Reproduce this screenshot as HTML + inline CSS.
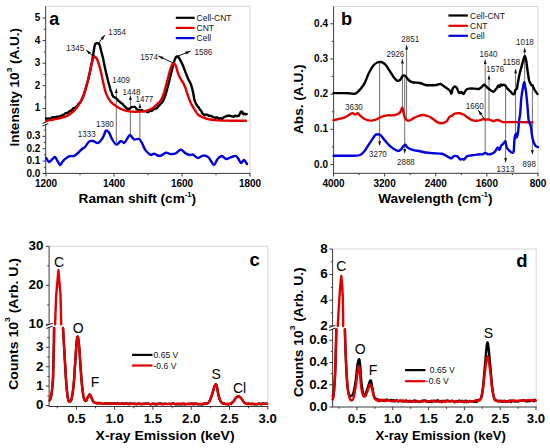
<!DOCTYPE html>
<html><head><meta charset="utf-8"><title>figure</title>
<style>html,body{margin:0;padding:0;background:#fff;width:550px;height:448px;overflow:hidden}svg{display:block;font-family:"Liberation Sans", sans-serif}</style>
</head><body>
<svg width="550" height="448" viewBox="0 0 550 448" font-family='"Liberation Sans", sans-serif'>
<rect width="550" height="448" fill="#fff"/>
<line x1="45.7" y1="6.2" x2="250" y2="6.2" stroke="#d4d4d4" stroke-width="1"/>
<line x1="250" y1="6.2" x2="250" y2="173.4" stroke="#d4d4d4" stroke-width="1"/>
<line x1="45.7" y1="6.2" x2="45.7" y2="120.4" stroke="#3a3a3a" stroke-width="1"/>
<line x1="45.7" y1="124.6" x2="45.7" y2="173.4" stroke="#3a3a3a" stroke-width="1"/>
<line x1="45.2" y1="173.4" x2="250.5" y2="173.4" stroke="#3a3a3a" stroke-width="1"/>
<line x1="42.4" y1="123.4" x2="47.2" y2="121.6" stroke="#222" stroke-width="1"/>
<line x1="42.4" y1="126" x2="48.4" y2="123.6" stroke="#222" stroke-width="1"/>
<line x1="42.5" y1="108.4" x2="45.7" y2="108.4" stroke="#3a3a3a" stroke-width="1"/>
<line x1="42.5" y1="85.8" x2="45.7" y2="85.8" stroke="#3a3a3a" stroke-width="1"/>
<line x1="42.5" y1="63.2" x2="45.7" y2="63.2" stroke="#3a3a3a" stroke-width="1"/>
<line x1="42.5" y1="40.6" x2="45.7" y2="40.6" stroke="#3a3a3a" stroke-width="1"/>
<line x1="42.5" y1="18" x2="45.7" y2="18" stroke="#3a3a3a" stroke-width="1"/>
<line x1="43.9" y1="97.1" x2="45.7" y2="97.1" stroke="#3a3a3a" stroke-width="1"/>
<line x1="43.9" y1="74.5" x2="45.7" y2="74.5" stroke="#3a3a3a" stroke-width="1"/>
<line x1="43.9" y1="51.9" x2="45.7" y2="51.9" stroke="#3a3a3a" stroke-width="1"/>
<line x1="43.9" y1="29.3" x2="45.7" y2="29.3" stroke="#3a3a3a" stroke-width="1"/>
<line x1="42.5" y1="173.5" x2="45.7" y2="173.5" stroke="#3a3a3a" stroke-width="1"/>
<line x1="42.5" y1="161.1" x2="45.7" y2="161.1" stroke="#3a3a3a" stroke-width="1"/>
<line x1="42.5" y1="148.7" x2="45.7" y2="148.7" stroke="#3a3a3a" stroke-width="1"/>
<line x1="42.5" y1="136.3" x2="45.7" y2="136.3" stroke="#3a3a3a" stroke-width="1"/>
<line x1="43.9" y1="167.3" x2="45.7" y2="167.3" stroke="#3a3a3a" stroke-width="1"/>
<line x1="43.9" y1="154.9" x2="45.7" y2="154.9" stroke="#3a3a3a" stroke-width="1"/>
<line x1="43.9" y1="142.5" x2="45.7" y2="142.5" stroke="#3a3a3a" stroke-width="1"/>
<line x1="43.9" y1="130.1" x2="45.7" y2="130.1" stroke="#3a3a3a" stroke-width="1"/>
<line x1="46" y1="173.4" x2="46" y2="176.6" stroke="#3a3a3a" stroke-width="1"/>
<line x1="114" y1="173.4" x2="114" y2="176.6" stroke="#3a3a3a" stroke-width="1"/>
<line x1="182" y1="173.4" x2="182" y2="176.6" stroke="#3a3a3a" stroke-width="1"/>
<line x1="250" y1="173.4" x2="250" y2="176.6" stroke="#3a3a3a" stroke-width="1"/>
<line x1="80" y1="173.4" x2="80" y2="175.2" stroke="#3a3a3a" stroke-width="1"/>
<line x1="148" y1="173.4" x2="148" y2="175.2" stroke="#3a3a3a" stroke-width="1"/>
<line x1="216" y1="173.4" x2="216" y2="175.2" stroke="#3a3a3a" stroke-width="1"/>
<text x="40.4" y="111.3" font-size="10" font-weight="bold" text-anchor="end" fill="#000">1</text>
<text x="40.4" y="88.7" font-size="10" font-weight="bold" text-anchor="end" fill="#000">2</text>
<text x="40.4" y="66.1" font-size="10" font-weight="bold" text-anchor="end" fill="#000">3</text>
<text x="40.4" y="43.5" font-size="10" font-weight="bold" text-anchor="end" fill="#000">4</text>
<text x="40.4" y="20.9" font-size="10" font-weight="bold" text-anchor="end" fill="#000">5</text>
<text x="40.4" y="176.5" font-size="10" font-weight="bold" text-anchor="end" fill="#000">0.0</text>
<text x="40.4" y="164.1" font-size="10" font-weight="bold" text-anchor="end" fill="#000">0.1</text>
<text x="40.4" y="151.7" font-size="10" font-weight="bold" text-anchor="end" fill="#000">0.2</text>
<text x="40.4" y="139.3" font-size="10" font-weight="bold" text-anchor="end" fill="#000">0.3</text>
<text x="46" y="187" font-size="10" font-weight="bold" text-anchor="middle" fill="#000">1200</text>
<text x="114" y="187" font-size="10" font-weight="bold" text-anchor="middle" fill="#000">1400</text>
<text x="182" y="187" font-size="10" font-weight="bold" text-anchor="middle" fill="#000">1600</text>
<text x="250" y="187" font-size="10" font-weight="bold" text-anchor="middle" fill="#000">1800</text>
<text x="78.6" y="202.9" font-size="13.6" font-weight="bold" text-anchor="start" fill="#000" textLength="117.5" lengthAdjust="spacingAndGlyphs">Raman shift (cm<tspan font-size="7.5" dy="-5.5">-1</tspan><tspan dy="5.5">)</tspan></text>
<text x="19.4" y="146.6" font-size="13" font-weight="bold" text-anchor="start" fill="#000" transform="rotate(-90 19.4 146.6)" textLength="118.6" lengthAdjust="spacingAndGlyphs">Intensity 10<tspan font-size="8" dy="-7.5">3</tspan><tspan dy="7.5"> (A.U.)</tspan></text>
<text x="49.3" y="25.2" font-size="18" font-weight="bold" text-anchor="start" fill="#000">a</text>
<line x1="116.3" y1="91" x2="116.3" y2="143.5" stroke="#6e6e6e" stroke-width="1"/>
<path d="M116.3,88 L114.9,93 L117.7,93 Z" fill="#111"/>
<line x1="130.4" y1="98" x2="130.4" y2="135.5" stroke="#6e6e6e" stroke-width="1"/>
<path d="M130.4,95 L129,100 L131.8,100 Z" fill="#111"/>
<line x1="139.9" y1="106" x2="139.9" y2="139.5" stroke="#6e6e6e" stroke-width="1"/>
<path d="M139.9,103 L138.5,108 L141.3,108 Z" fill="#111"/>
<path d="M46,118.53 L46.81,118.85 L47.95,118.45 L49.29,118.58 L50.68,118.4 L52,117.39 L53.25,117.08 L54.53,117.99 L55.81,116.9 L57.07,116.57 L58.3,117.29 L59.78,116.08 L61.21,116.07 L62.62,114.99 L64,114.59 L65.36,113.23 L66.68,113.16 L67.99,112.71 L69.3,111.43 L70.62,110.93 L71.94,110.01 L73.24,108.3 L74.5,108.36 L76.11,106.91 L77.66,105.21 L79.1,103.24 L80.44,102.4 L81.69,99.54 L82.8,97.51 L83.72,95.38 L84.5,92.72 L85.3,90.39 L86.17,86.93 L87.05,83.86 L87.9,80.7 L88.71,77.39 L89.48,73.97 L90.2,70.7 L90.87,67.59 L91.49,64.62 L92,62 L92.37,59.91 L92.63,58.17 L92.9,56.4 L93.2,54.45 L93.5,52.47 L93.8,50.6 L94.1,48.8 L94.4,47.1 L94.7,45.7 L94.95,44.7 L95.2,43.99 L95.6,43.5 L96.3,43.22 L97.16,43.16 L97.9,43.2 L98.42,43.29 L98.83,43.48 L99.2,43.9 L99.51,44.55 L99.79,45.43 L100.1,46.6 L100.5,48.2 L100.94,50.11 L101.4,52 L101.86,53.74 L102.34,55.46 L102.8,57.3 L103.24,59.33 L103.67,61.47 L104.1,63.6 L104.54,65.71 L104.97,67.81 L105.4,69.8 L105.79,71.56 L106.17,73.21 L106.6,75 L107.11,77.13 L107.67,79.4 L108.2,81.5 L108.7,83.33 L109.17,85 L109.6,86.5 L109.89,87.67 L110.14,88.52 L110.6,90.42 L111.4,92 L112.4,95.09 L113.5,97.03 L114.63,97.15 L115.85,98.02 L117.2,99.1 L118.34,101.12 L119.58,101.44 L120.85,102.83 L122.1,103.52 L123.4,105.11 L124.74,106.37 L125.99,107.61 L127,108.82 L127.76,109.2 L128.17,109.47 L128.8,108.75 L129.89,108.37 L131.2,107.31 L132.5,106.99 L133.76,106.84 L135.01,106.87 L136.2,108.6 L137.26,109.42 L138.24,110.03 L139.3,110.1 L140.51,110.58 L141.8,110.01 L143,111.06 L143.96,111.08 L144.84,111.1 L146,110.99 L147.21,112.02 L148.63,112 L150.11,110.43 L151.5,111.02 L152.82,109.95 L154.14,108.95 L155.36,108.46 L156.4,108.48 L157.37,107.87 L158.07,105.97 L158.9,105.86 L160.06,104.57 L161.34,103.27 L162.5,101.8 L163.4,100.29 L164.18,98.61 L165,96.4 L165.94,93.41 L166.92,89.88 L167.9,86.2 L168.89,82.33 L169.89,78.3 L170.8,74.6 L171.59,71.46 L172.3,68.66 L173,66 L173.7,63.29 L174.4,60.72 L175.1,58.7 L175.83,57.36 L176.56,56.56 L177.3,56.3 L178.03,56.67 L178.77,57.58 L179.5,58.7 L180.26,60.04 L181.03,61.59 L181.7,63 L182.2,64 L182.6,64.85 L183.1,66 L183.75,67.64 L184.49,69.58 L185.3,71.7 L186.21,74.07 L187.21,76.62 L188.2,79 L189.19,80.94 L190.19,82.71 L191.1,84.8 L191.91,87.54 L192.65,90.6 L193.3,93.5 L193.77,96.06 L194.15,98.46 L194.7,100.7 L195.53,102.79 L196.53,104.72 L197.6,106.5 L198.79,107.48 L200.06,109.88 L201.2,110.66 L202.04,112.67 L202.74,113.91 L203.6,114.11 L204.74,115.3 L206.04,114.61 L207.4,114.61 L208.82,115.85 L210.31,115.63 L211.8,116.38 L213.27,117.1 L214.74,117.75 L216.2,117.42 L217.68,117.53 L219.14,118.88 L220.5,118.14 L221.63,118.85 L222.66,118.41 L223.8,117.23 L225.19,116.68 L226.7,115.99 L228.2,115.7 L229.68,115.75 L231.14,116.12 L232.5,116.47 L233.71,116.78 L234.82,115.87 L235.8,115.6 L236.61,116.26 L237.31,115.98 L238,116.02 L238.76,116.08 L239.51,114.11 L240.2,113.07 L240.78,111.66 L241.29,111.82 L241.8,112.01 L242.27,111.8 L242.74,113.57 L243.4,114.29 L244.5,113.65 L245.78,114.36 L246.7,114.05" fill="none" stroke="#000000" stroke-width="2.4" stroke-linejoin="round" stroke-linecap="round"/>
<path d="M46,120.9 C47,120.73 49.95,120.28 52,119.9 C54.05,119.52 56.3,119.08 58.3,118.6 C60.3,118.12 62.37,117.53 64,117 C65.63,116.47 66.77,116.13 68.1,115.4 C69.43,114.67 70.85,113.57 72,112.6 C73.15,111.63 73.82,110.97 75,109.6 C76.18,108.23 77.8,106.5 79.1,104.4 C80.4,102.3 81.77,99.47 82.8,97 C83.83,94.53 84.45,92.35 85.3,89.6 C86.15,86.85 87.08,83.68 87.9,80.5 C88.72,77.32 89.52,73.58 90.2,70.5 C90.88,67.42 91.38,64.25 92,62 C92.62,59.75 93.33,57.83 93.9,57 C94.47,56.17 94.85,56.57 95.4,57 C95.95,57.43 96.55,58.17 97.2,59.6 C97.85,61.03 98.63,63.37 99.3,65.6 C99.97,67.83 100.57,70.27 101.2,73 C101.83,75.73 102.28,78.57 103.1,82 C103.92,85.43 104.78,90.27 106.1,93.6 C107.42,96.93 109.15,99.78 111,102 C112.85,104.22 114.95,105.5 117.2,106.9 C119.45,108.3 122.05,109.62 124.5,110.4 C126.95,111.18 129.23,111.4 131.9,111.6 C134.57,111.8 138.05,111.73 140.5,111.6 C142.95,111.47 144.55,111.38 146.6,110.8 C148.65,110.22 150.95,109.3 152.8,108.1 C154.65,106.9 156.43,104.78 157.7,103.6 C158.97,102.42 159.6,102.1 160.4,101 C161.2,99.9 161.83,98.57 162.5,97 C163.17,95.43 163.48,94.77 164.4,91.6 C165.32,88.43 166.97,81.85 168,78 C169.03,74.15 169.78,70.93 170.6,68.5 C171.42,66.07 172.35,64.28 172.9,63.4 C173.45,62.52 173.4,62.77 173.9,63.2 C174.4,63.63 175.22,64.33 175.9,66 C176.58,67.67 177.28,71.15 178,73.2 C178.72,75.25 179.35,76.73 180.2,78.3 C181.05,79.87 182.25,81.03 183.1,82.6 C183.95,84.17 184.45,85.4 185.3,87.7 C186.15,90 187.23,93.75 188.2,96.4 C189.17,99.05 189.9,101.18 191.1,103.6 C192.3,106.02 194.18,109 195.4,110.9 C196.62,112.8 196.95,113.83 198.4,115 C199.85,116.17 202.17,117.15 204.1,117.9 C206.03,118.65 207.68,119.08 210,119.5 C212.32,119.92 214.67,120.2 218,120.4 C221.33,120.6 225.33,120.63 230,120.7 C234.67,120.77 243.33,120.78 246,120.8" fill="none" stroke="#e00000" stroke-width="2.4" stroke-linejoin="round" stroke-linecap="round"/>
<path d="M46,158 C46.5,158.67 48,161.75 49,162 C50,162.25 51,160.33 52,159.5 C53,158.67 54.08,156.75 55,157 C55.92,157.25 56.67,159.67 57.5,161 C58.33,162.33 59.25,164.75 60,165 C60.75,165.25 61.33,163.33 62,162.5 C62.67,161.67 62.83,161.03 64,160 C65.17,158.97 67.33,156.97 69,156.3 C70.67,155.63 72.5,156.55 74,156 C75.5,155.45 76.67,154.17 78,153 C79.33,151.83 80.83,150 82,149 C83.17,148 83.83,148.23 85,147 C86.17,145.77 87.67,142.6 89,141.6 C90.33,140.6 91.5,140.77 93,141 C94.5,141.23 96.5,143.33 98,143 C99.5,142.67 101,140.33 102,139 C103,137.67 103.33,136.4 104,135 C104.67,133.6 105.17,131.02 106,130.6 C106.83,130.18 108,131.1 109,132.5 C110,133.9 110.77,136.98 112,139 C113.23,141.02 114.9,144.27 116.4,144.6 C117.9,144.93 119.73,141.27 121,141 C122.27,140.73 123,143.33 124,143 C125,142.67 126,140.33 127,139 C128,137.67 128.83,134.93 130,135 C131.17,135.07 132.5,138.73 134,139.4 C135.5,140.07 137.67,138.4 139,139 C140.33,139.6 141,141.25 142,143 C143,144.75 144,147.83 145,149.5 C146,151.17 147,152.08 148,153 C149,153.92 150,154.9 151,155 C152,155.1 152.92,153.53 154,153.6 C155.08,153.67 156.33,155.07 157.5,155.4 C158.67,155.73 159.58,156.07 161,155.6 C162.42,155.13 164.5,152.87 166,152.6 C167.5,152.33 168.5,153.83 170,154 C171.5,154.17 173.67,154.02 175,153.6 C176.33,153.18 177,152.17 178,151.5 C179,150.83 180,149.52 181,149.6 C182,149.68 183.17,151.33 184,152 C184.83,152.67 185,153.1 186,153.6 C187,154.1 188.83,154.83 190,155 C191.17,155.17 191.67,154.1 193,154.6 C194.33,155.1 196.33,157.83 198,158 C199.67,158.17 201.33,155.77 203,155.6 C204.67,155.43 206.67,156.1 208,157 C209.33,157.9 210,159.67 211,161 C212,162.33 213,165.17 214,165 C215,164.83 216.17,161.23 217,160 C217.83,158.77 218.17,158.27 219,157.6 C219.83,156.93 220.83,155.77 222,156 C223.17,156.23 224.67,158.73 226,159 C227.33,159.27 228.83,158.02 230,157.6 C231.17,157.18 232,156.77 233,156.5 C234,156.23 235.08,155.58 236,156 C236.92,156.42 237.67,157.83 238.5,159 C239.33,160.17 240.08,162.83 241,163 C241.92,163.17 243,159.83 244,160 C245,160.17 246.5,163.33 247,164" fill="none" stroke="#0000e0" stroke-width="2.4" stroke-linejoin="round" stroke-linecap="round"/>
<line x1="98.7" y1="42.9" x2="104.8" y2="35" stroke="#111" stroke-width="1"/>
<path d="M104.8,35 L103.01,39.94 L100.48,37.98 Z" fill="#111"/>
<text x="108.2" y="34.6" font-size="8.5" font-weight="normal" text-anchor="start" fill="#222" textLength="17.8" lengthAdjust="spacingAndGlyphs">1354</text>
<line x1="92.6" y1="55.8" x2="86.2" y2="50" stroke="#111" stroke-width="1"/>
<path d="M86.2,50 L90.98,52.17 L88.83,54.54 Z" fill="#111"/>
<text x="66.3" y="51.2" font-size="8.5" font-weight="normal" text-anchor="start" fill="#222" textLength="17.8" lengthAdjust="spacingAndGlyphs">1345</text>
<line x1="172.8" y1="62.8" x2="158.3" y2="56" stroke="#111" stroke-width="1"/>
<path d="M158.3,56 L163.51,56.67 L162.15,59.57 Z" fill="#111"/>
<text x="140.2" y="60.4" font-size="8.5" font-weight="normal" text-anchor="start" fill="#222" textLength="17.8" lengthAdjust="spacingAndGlyphs">1574</text>
<line x1="177.8" y1="56.1" x2="190.5" y2="51.2" stroke="#111" stroke-width="1"/>
<path d="M190.5,51.2 L186.41,54.49 L185.26,51.51 Z" fill="#111"/>
<text x="194.5" y="54.9" font-size="8.5" font-weight="normal" text-anchor="start" fill="#222" textLength="17.8" lengthAdjust="spacingAndGlyphs">1586</text>
<text x="112.2" y="83.4" font-size="8.5" font-weight="normal" text-anchor="start" fill="#222" textLength="17.8" lengthAdjust="spacingAndGlyphs">1409</text>
<text x="122.6" y="94.8" font-size="8.5" font-weight="normal" text-anchor="start" fill="#222" textLength="17.8" lengthAdjust="spacingAndGlyphs">1448</text>
<text x="135.5" y="102.4" font-size="8.5" font-weight="normal" text-anchor="start" fill="#222" textLength="17.8" lengthAdjust="spacingAndGlyphs">1477</text>
<text x="77.8" y="137.4" font-size="8.5" font-weight="normal" text-anchor="start" fill="#222" textLength="17.8" lengthAdjust="spacingAndGlyphs">1333</text>
<text x="96" y="127.4" font-size="8.5" font-weight="normal" text-anchor="start" fill="#222" textLength="17.8" lengthAdjust="spacingAndGlyphs">1380</text>
<line x1="175.8" y1="17.8" x2="194.7" y2="17.8" stroke="#000000" stroke-width="2.2"/>
<text x="196.6" y="20.9" font-size="8.5" font-weight="normal" text-anchor="start" fill="#111">Cell-CNT</text>
<line x1="175.8" y1="27.9" x2="194.7" y2="27.9" stroke="#e00000" stroke-width="2.2"/>
<text x="196.6" y="31" font-size="8.5" font-weight="normal" text-anchor="start" fill="#111">CNT</text>
<line x1="175.8" y1="38.1" x2="194.7" y2="38.1" stroke="#0000e0" stroke-width="2.2"/>
<text x="196.6" y="41.2" font-size="8.5" font-weight="normal" text-anchor="start" fill="#111">Cell</text>
<line x1="333.6" y1="6.5" x2="538" y2="6.5" stroke="#d4d4d4" stroke-width="1"/>
<line x1="538" y1="6.5" x2="538" y2="173.3" stroke="#d4d4d4" stroke-width="1"/>
<line x1="333.6" y1="6.5" x2="333.6" y2="173.3" stroke="#3a3a3a" stroke-width="1"/>
<line x1="333.1" y1="173.3" x2="538.5" y2="173.3" stroke="#3a3a3a" stroke-width="1"/>
<line x1="330.4" y1="164.5" x2="333.6" y2="164.5" stroke="#3a3a3a" stroke-width="1"/>
<line x1="330.4" y1="129.32" x2="333.6" y2="129.32" stroke="#3a3a3a" stroke-width="1"/>
<line x1="330.4" y1="94.15" x2="333.6" y2="94.15" stroke="#3a3a3a" stroke-width="1"/>
<line x1="330.4" y1="58.98" x2="333.6" y2="58.98" stroke="#3a3a3a" stroke-width="1"/>
<line x1="330.4" y1="23.8" x2="333.6" y2="23.8" stroke="#3a3a3a" stroke-width="1"/>
<line x1="331.8" y1="146.91" x2="333.6" y2="146.91" stroke="#3a3a3a" stroke-width="1"/>
<line x1="331.8" y1="111.74" x2="333.6" y2="111.74" stroke="#3a3a3a" stroke-width="1"/>
<line x1="331.8" y1="76.56" x2="333.6" y2="76.56" stroke="#3a3a3a" stroke-width="1"/>
<line x1="331.8" y1="41.39" x2="333.6" y2="41.39" stroke="#3a3a3a" stroke-width="1"/>
<line x1="333.5" y1="173.3" x2="333.5" y2="176.5" stroke="#3a3a3a" stroke-width="1"/>
<line x1="384.62" y1="173.3" x2="384.62" y2="176.5" stroke="#3a3a3a" stroke-width="1"/>
<line x1="435.75" y1="173.3" x2="435.75" y2="176.5" stroke="#3a3a3a" stroke-width="1"/>
<line x1="486.87" y1="173.3" x2="486.87" y2="176.5" stroke="#3a3a3a" stroke-width="1"/>
<line x1="538" y1="173.3" x2="538" y2="176.5" stroke="#3a3a3a" stroke-width="1"/>
<line x1="359.06" y1="173.3" x2="359.06" y2="175.1" stroke="#3a3a3a" stroke-width="1"/>
<line x1="410.19" y1="173.3" x2="410.19" y2="175.1" stroke="#3a3a3a" stroke-width="1"/>
<line x1="461.31" y1="173.3" x2="461.31" y2="175.1" stroke="#3a3a3a" stroke-width="1"/>
<line x1="512.44" y1="173.3" x2="512.44" y2="175.1" stroke="#3a3a3a" stroke-width="1"/>
<text x="328" y="167.6" font-size="10" font-weight="bold" text-anchor="end" fill="#000">0.0</text>
<text x="328" y="132.42" font-size="10" font-weight="bold" text-anchor="end" fill="#000">0.1</text>
<text x="328" y="97.25" font-size="10" font-weight="bold" text-anchor="end" fill="#000">0.2</text>
<text x="328" y="62.08" font-size="10" font-weight="bold" text-anchor="end" fill="#000">0.3</text>
<text x="328" y="26.9" font-size="10" font-weight="bold" text-anchor="end" fill="#000">0.4</text>
<text x="333.5" y="187" font-size="10" font-weight="bold" text-anchor="middle" fill="#000">4000</text>
<text x="384.62" y="187" font-size="10" font-weight="bold" text-anchor="middle" fill="#000">3200</text>
<text x="435.75" y="187" font-size="10" font-weight="bold" text-anchor="middle" fill="#000">2400</text>
<text x="486.87" y="187" font-size="10" font-weight="bold" text-anchor="middle" fill="#000">1600</text>
<text x="538" y="187" font-size="10" font-weight="bold" text-anchor="middle" fill="#000">800</text>
<text x="378.2" y="202.9" font-size="13.6" font-weight="bold" text-anchor="start" fill="#000" textLength="114.3" lengthAdjust="spacingAndGlyphs">Wavelength (cm<tspan font-size="7.5" dy="-5.5">-1</tspan><tspan dy="5.5">)</tspan></text>
<text x="302.8" y="134" font-size="13" font-weight="bold" text-anchor="start" fill="#000" transform="rotate(-90 302.8 134)" textLength="69.6" lengthAdjust="spacingAndGlyphs">Abs. (A.U.)</text>
<text x="341" y="25" font-size="18.2" font-weight="bold" text-anchor="start" fill="#000">b</text>
<line x1="379.6" y1="63" x2="379.6" y2="143.3" stroke="#6e6e6e" stroke-width="1"/>
<path d="M379.6,146.3 L378.2,141.3 L381,141.3 Z" fill="#111"/>
<line x1="402.4" y1="61.5" x2="402.4" y2="109" stroke="#6e6e6e" stroke-width="1"/>
<path d="M402.4,58.5 L401,63.5 L403.8,63.5 Z" fill="#111"/>
<line x1="404.7" y1="75" x2="404.7" y2="150.9" stroke="#6e6e6e" stroke-width="1"/>
<path d="M404.7,153.9 L403.3,148.9 L406.1,148.9 Z" fill="#111"/>
<line x1="406.6" y1="47.4" x2="406.6" y2="119" stroke="#6e6e6e" stroke-width="1"/>
<path d="M406.6,44.4 L405.2,49.4 L408,49.4 Z" fill="#111"/>
<line x1="485.2" y1="61.9" x2="485.2" y2="152.5" stroke="#6e6e6e" stroke-width="1"/>
<path d="M485.2,58.9 L483.8,63.9 L486.6,63.9 Z" fill="#111"/>
<line x1="489" y1="77.5" x2="489" y2="119" stroke="#6e6e6e" stroke-width="1"/>
<path d="M489,74.5 L487.6,79.5 L490.4,79.5 Z" fill="#111"/>
<line x1="505.6" y1="85" x2="505.6" y2="160" stroke="#6e6e6e" stroke-width="1"/>
<path d="M505.6,163 L504.2,158 L507,158 Z" fill="#111"/>
<line x1="515.6" y1="71.3" x2="515.6" y2="140" stroke="#6e6e6e" stroke-width="1"/>
<path d="M515.6,68.3 L514.2,73.3 L517,73.3 Z" fill="#111"/>
<line x1="524.7" y1="50.2" x2="524.7" y2="88" stroke="#6e6e6e" stroke-width="1"/>
<path d="M524.7,47.2 L523.3,52.2 L526.1,52.2 Z" fill="#111"/>
<line x1="532.4" y1="85" x2="532.4" y2="152" stroke="#6e6e6e" stroke-width="1"/>
<path d="M532.4,155 L531,150 L533.8,150 Z" fill="#111"/>
<path d="M333.6,120.2 C334.08,120.08 335.47,119.75 336.5,119.5 C337.53,119.25 338.8,118.93 339.8,118.7 C340.8,118.47 341.68,118.32 342.5,118.1 C343.32,117.88 343.95,117.7 344.7,117.4 C345.45,117.1 346.25,116.75 347,116.3 C347.75,115.85 348.5,115.17 349.2,114.7 C349.9,114.23 350.63,113.75 351.2,113.5 C351.77,113.25 351.93,113.02 352.6,113.2 C353.27,113.38 354.35,114.6 355.2,114.6 C356.05,114.6 356.87,113.03 357.7,113.2 C358.53,113.37 359.13,114.67 360.2,115.6 C361.27,116.52 362.42,117.92 364.1,118.75 C365.78,119.58 368.22,120.51 370.3,120.6 C372.38,120.69 374.78,119.92 376.6,119.3 C378.43,118.68 379.43,117.55 381.25,116.9 C383.07,116.25 385.42,115.67 387.5,115.4 C389.58,115.13 391.93,115.57 393.75,115.3 C395.57,115.03 397.22,114.47 398.4,113.8 C399.57,113.12 400.15,112.28 400.8,111.25 C401.45,110.22 401.87,107.47 402.3,107.6 C402.73,107.72 403,110.4 403.4,112 C403.8,113.6 404.18,115.9 404.7,117.2 C405.22,118.5 405.9,119.22 406.5,119.8 C407.1,120.38 407.63,120.67 408.3,120.7 C408.97,120.73 409.6,120.43 410.5,120 C411.4,119.57 412.45,118.75 413.7,118.1 C414.95,117.45 416.37,116.62 418,116.1 C419.63,115.58 421.67,114.93 423.5,115 C425.33,115.07 427.42,115.83 429,116.5 C430.58,117.17 431.55,118.03 433,119 C434.45,119.97 436.18,121.6 437.7,122.3 C439.22,123 440.65,123.35 442.1,123.2 C443.55,123.05 445.13,122.5 446.4,121.4 C447.67,120.3 448.78,117.52 449.7,116.6 C450.62,115.68 451.17,116.37 451.9,115.9 C452.63,115.43 452.83,114.25 454.1,113.8 C455.37,113.35 457.87,113.03 459.5,113.2 C461.13,113.37 462.48,114.03 463.9,114.8 C465.32,115.57 466.65,116.92 468,117.8 C469.35,118.68 470.55,119.6 472,120.1 C473.45,120.6 475.25,120.8 476.7,120.8 C478.15,120.8 479.58,120.42 480.7,120.1 C481.82,119.78 482.62,118.95 483.4,118.9 C484.18,118.85 484.62,119.75 485.4,119.8 C486.18,119.85 487.2,119.15 488.1,119.2 C489,119.25 489.95,119.8 490.8,120.1 C491.65,120.4 492.05,121.02 493.2,121 C494.35,120.98 496.22,119.87 497.7,120 C499.18,120.13 500.77,121.45 502.1,121.8 C503.43,122.15 503.9,122.05 505.7,122.1 C507.5,122.15 510.52,122.1 512.9,122.1 C515.28,122.1 516.73,122.05 520,122.1 C523.27,122.15 530.42,122.35 532.5,122.4" fill="none" stroke="#e00000" stroke-width="2.4" stroke-linejoin="round" stroke-linecap="round"/>
<path d="M333.6,155.7 C335.28,155.7 340.13,155.7 343.7,155.7 C347.27,155.7 352.28,155.82 355,155.7 C357.72,155.58 358.43,155.75 360,155 C361.57,154.25 362.95,152.93 364.4,151.2 C365.85,149.47 367.25,146.78 368.7,144.6 C370.15,142.42 371.92,139.77 373.1,138.1 C374.28,136.43 374.72,135.18 375.8,134.6 C376.88,134.02 378.6,134.28 379.6,134.6 C380.6,134.92 380.88,135.47 381.8,136.5 C382.72,137.53 383.82,139.27 385.1,140.8 C386.38,142.33 388.05,144.33 389.5,145.7 C390.95,147.07 392.35,148.12 393.8,149 C395.25,149.88 397.02,150.92 398.2,151 C399.38,151.08 400,150.38 400.9,149.5 C401.8,148.62 402.87,146.52 403.6,145.7 C404.33,144.88 404.75,144.42 405.3,144.6 C405.85,144.78 406.08,146.07 406.9,146.8 C407.72,147.53 408.93,148.42 410.2,149 C411.47,149.58 412.87,149.93 414.5,150.3 C416.13,150.67 418.17,150.83 420,151.2 C421.83,151.57 423.33,152.17 425.5,152.5 C427.67,152.83 430.28,153 433,153.2 C435.72,153.4 439.6,153.27 441.8,153.7 C444,154.13 444.65,155.02 446.2,155.8 C447.75,156.58 450.02,158.2 451.1,158.4 C452.18,158.6 452.07,157.42 452.7,157 C453.33,156.58 454.08,155.98 454.9,155.9 C455.72,155.82 456.7,155.9 457.6,156.5 C458.5,157.1 459.48,159.08 460.3,159.5 C461.12,159.92 461.85,159 462.5,159 C463.15,159 463.47,159.93 464.2,159.5 C464.93,159.07 465.55,157.1 466.9,156.4 C468.25,155.7 470.62,155.6 472.3,155.3 C473.98,155 475.72,154.77 477,154.6 C478.28,154.43 479.08,154.33 480,154.3 C480.92,154.27 481.63,154.63 482.5,154.4 C483.37,154.17 484.3,152.92 485.2,152.9 C486.1,152.88 486.87,154.13 487.9,154.3 C488.93,154.47 490.22,154.35 491.4,153.9 C492.58,153.45 493.95,152.67 495,151.6 C496.05,150.53 496.95,147.8 497.7,147.5 C498.45,147.2 498.9,150.15 499.5,149.8 C500.1,149.45 500.72,146.35 501.3,145.4 C501.88,144.45 502.32,144.77 503,144.1 C503.68,143.43 504.8,140.9 505.4,141.4 C506,141.9 505.95,145.55 506.6,147.1 C507.25,148.65 508.32,149.73 509.3,150.7 C510.28,151.67 511.76,152.9 512.5,152.9 C513.24,152.9 513.4,153.15 513.75,150.7 C514.1,148.25 514.21,141.02 514.6,138.2 C514.99,135.38 515.73,133.9 516.1,133.75 C516.47,133.6 516.45,137.74 516.8,137.3 C517.15,136.86 517.82,133.9 518.2,131.1 C518.58,128.3 518.78,123.28 519.1,120.5 C519.42,117.72 519.77,117.75 520.1,114.4 C520.43,111.05 520.77,104.08 521.1,100.4 C521.43,96.72 521.83,94.15 522.1,92.3 C522.37,90.45 522.37,90.97 522.7,89.3 C523.03,87.63 523.7,82.8 524.1,82.3 C524.5,81.8 524.77,84.63 525.1,86.3 C525.43,87.97 525.7,88.95 526.1,92.3 C526.5,95.65 527.07,101.7 527.5,106.4 C527.93,111.1 528.17,117.28 528.7,120.5 C529.23,123.72 530.07,122.75 530.7,125.7 C531.33,128.65 531.75,134.92 532.5,138.2 C533.25,141.48 534.3,143.92 535.2,145.4 C536.1,146.88 537.45,146.82 537.9,147.1" fill="none" stroke="#0000e0" stroke-width="2.4" stroke-linejoin="round" stroke-linecap="round"/>
<path d="M333.6,93.1 C335.42,93.1 341.77,93.05 344.5,93.1 C347.23,93.15 348.3,93.3 350,93.4 C351.7,93.5 353.43,93.92 354.7,93.7 C355.97,93.48 356.5,93.05 357.6,92.1 C358.7,91.15 360.08,89.58 361.3,88 C362.52,86.42 363.66,85.07 364.9,82.6 C366.14,80.13 367.33,76.07 368.75,73.2 C370.17,70.33 371.97,67.18 373.4,65.4 C374.82,63.62 375.99,63.07 377.3,62.5 C378.61,61.93 379.93,61.68 381.25,62 C382.57,62.32 383.91,63.1 385.2,64.4 C386.49,65.7 387.7,67.85 389,69.8 C390.3,71.75 391.68,74.3 393,76.1 C394.32,77.9 395.73,79.95 396.9,80.6 C398.07,81.25 398.97,80.83 400,80 C401.03,79.17 402.18,76.25 403.1,75.6 C404.02,74.95 404.58,75.37 405.5,76.1 C406.42,76.83 407.43,78.97 408.6,80 C409.77,81.03 411.27,81.87 412.5,82.3 C413.73,82.73 414.75,82.48 416,82.6 C417.25,82.72 418.42,82.6 420,83 C421.58,83.4 423.67,84.63 425.5,85 C427.33,85.37 429.18,85.2 431,85.2 C432.82,85.2 434.87,85.2 436.4,85 C437.93,84.8 439.12,83.93 440.2,84 C441.28,84.07 441.72,84.63 442.9,85.4 C444.08,86.17 446.12,87.7 447.3,88.6 C448.48,89.5 449.32,89.97 450,90.8 C450.68,91.63 450.95,93.93 451.4,93.6 C451.85,93.27 452.2,89.97 452.7,88.8 C453.2,87.63 453.77,86.8 454.4,86.6 C455.03,86.4 455.78,86.67 456.5,87.6 C457.22,88.53 458.07,91.3 458.7,92.2 C459.33,93.1 459.85,93.05 460.3,93 C460.75,92.95 460.93,91.73 461.4,91.9 C461.87,92.07 462.63,93.82 463.1,94 C463.57,94.18 463.67,93.72 464.2,93 C464.73,92.28 465.48,90.43 466.3,89.7 C467.12,88.97 467.73,88.78 469.1,88.6 C470.47,88.42 472.93,88.53 474.5,88.6 C476.07,88.67 477.38,89.18 478.5,89 C479.62,88.82 480.27,88.22 481.2,87.5 C482.13,86.78 483.23,84.85 484.1,84.7 C484.97,84.55 485.5,85.82 486.4,86.6 C487.3,87.38 488.33,88.55 489.5,89.4 C490.67,90.25 492.4,91.68 493.4,91.7 C494.4,91.72 494.97,90.02 495.5,89.5 C496.03,88.98 496.13,89.27 496.6,88.6 C497.07,87.93 497.82,85.8 498.3,85.5 C498.78,85.2 499.08,86.95 499.5,86.8 C499.92,86.65 500.38,84.8 500.8,84.6 C501.22,84.4 501.53,85.6 502,85.6 C502.47,85.6 503.07,84.62 503.6,84.6 C504.13,84.58 504.55,84.83 505.2,85.5 C505.85,86.17 506.6,87.57 507.5,88.6 C508.4,89.63 509.68,90.78 510.6,91.7 C511.52,92.62 512.35,93.83 513,94.1 C513.65,94.37 514.12,93.95 514.5,93.3 C514.88,92.65 514.9,90.98 515.3,90.2 C515.7,89.42 516.5,89.65 516.9,88.6 C517.3,87.55 517.33,85.97 517.7,83.9 C518.07,81.83 518.53,78.82 519.1,76.2 C519.67,73.58 520.4,70.88 521.1,68.2 C521.8,65.52 522.7,62.13 523.3,60.1 C523.9,58.07 524.23,56 524.7,56 C525.17,56 525.63,57.73 526.1,60.1 C526.57,62.47 527,66.85 527.5,70.2 C528,73.55 528.48,77.77 529.1,80.2 C529.72,82.63 530.62,83.95 531.2,84.8 C531.78,85.65 532.2,84.77 532.6,85.3 C533,85.83 533.17,87.08 533.6,88 C534.03,88.92 534.55,89.8 535.2,90.8 C535.85,91.8 537.12,93.47 537.5,94" fill="none" stroke="#000000" stroke-width="2.4" stroke-linejoin="round" stroke-linecap="round"/>
<line x1="485" y1="119.8" x2="478.3" y2="110.2" stroke="#111" stroke-width="1"/>
<path d="M478.3,110.2 L482.47,113.38 L479.85,115.22 Z" fill="#111"/>
<text x="465.8" y="108.6" font-size="8.5" font-weight="normal" text-anchor="start" fill="#222" textLength="17.8" lengthAdjust="spacingAndGlyphs">1660</text>
<text x="345" y="110.3" font-size="8.5" font-weight="normal" text-anchor="start" fill="#222" textLength="17.8" lengthAdjust="spacingAndGlyphs">3630</text>
<text x="369" y="157.2" font-size="8.5" font-weight="normal" text-anchor="start" fill="#222" textLength="17.8" lengthAdjust="spacingAndGlyphs">3270</text>
<text x="397" y="165" font-size="8.5" font-weight="normal" text-anchor="start" fill="#222" textLength="17.8" lengthAdjust="spacingAndGlyphs">2888</text>
<text x="386.5" y="56.8" font-size="8.5" font-weight="normal" text-anchor="start" fill="#222" textLength="17.8" lengthAdjust="spacingAndGlyphs">2926</text>
<text x="401.3" y="41.8" font-size="8.5" font-weight="normal" text-anchor="start" fill="#222" textLength="17.8" lengthAdjust="spacingAndGlyphs">2851</text>
<text x="479.6" y="57" font-size="8.5" font-weight="normal" text-anchor="start" fill="#222" textLength="17.8" lengthAdjust="spacingAndGlyphs">1640</text>
<text x="486.3" y="71.9" font-size="8.5" font-weight="normal" text-anchor="start" fill="#222" textLength="17.8" lengthAdjust="spacingAndGlyphs">1576</text>
<text x="502.4" y="64.8" font-size="8.5" font-weight="normal" text-anchor="start" fill="#222" textLength="17.8" lengthAdjust="spacingAndGlyphs">1158</text>
<text x="516" y="44.9" font-size="8.5" font-weight="normal" text-anchor="start" fill="#222" textLength="17.8" lengthAdjust="spacingAndGlyphs">1018</text>
<text x="496.6" y="171.6" font-size="8.5" font-weight="normal" text-anchor="start" fill="#222" textLength="17.8" lengthAdjust="spacingAndGlyphs">1313</text>
<text x="522.6" y="166.9" font-size="8.5" font-weight="normal" text-anchor="start" fill="#222" textLength="13.4" lengthAdjust="spacingAndGlyphs">898</text>
<line x1="448.4" y1="15.5" x2="467.9" y2="15.5" stroke="#000000" stroke-width="2.2"/>
<text x="470" y="18.6" font-size="8.5" font-weight="normal" text-anchor="start" fill="#111">Cell-CNT</text>
<line x1="448.4" y1="25.8" x2="467.9" y2="25.8" stroke="#e00000" stroke-width="2.2"/>
<text x="470" y="28.9" font-size="8.5" font-weight="normal" text-anchor="start" fill="#111">CNT</text>
<line x1="448.4" y1="35.8" x2="467.9" y2="35.8" stroke="#0000e0" stroke-width="2.2"/>
<text x="470" y="38.9" font-size="8.5" font-weight="normal" text-anchor="start" fill="#111">Cell</text>
<line x1="49.1" y1="246.3" x2="267.8" y2="246.3" stroke="#d4d4d4" stroke-width="1"/>
<line x1="267.8" y1="246.3" x2="267.8" y2="406.5" stroke="#d4d4d4" stroke-width="1"/>
<line x1="49.1" y1="246.3" x2="49.1" y2="324.3" stroke="#3a3a3a" stroke-width="1"/>
<line x1="49.1" y1="327.2" x2="49.1" y2="406.5" stroke="#3a3a3a" stroke-width="1"/>
<line x1="48.6" y1="406.5" x2="268.3" y2="406.5" stroke="#3a3a3a" stroke-width="1"/>
<line x1="46.2" y1="325.5" x2="52.9" y2="323.3" stroke="#222" stroke-width="1"/>
<line x1="46.2" y1="328.5" x2="52.9" y2="326.2" stroke="#222" stroke-width="1"/>
<line x1="45.9" y1="324.4" x2="49.1" y2="324.4" stroke="#3a3a3a" stroke-width="1"/>
<line x1="45.9" y1="285.35" x2="49.1" y2="285.35" stroke="#3a3a3a" stroke-width="1"/>
<line x1="45.9" y1="246.3" x2="49.1" y2="246.3" stroke="#3a3a3a" stroke-width="1"/>
<line x1="47.3" y1="304.88" x2="49.1" y2="304.88" stroke="#3a3a3a" stroke-width="1"/>
<line x1="47.3" y1="265.82" x2="49.1" y2="265.82" stroke="#3a3a3a" stroke-width="1"/>
<line x1="45.9" y1="405.5" x2="49.1" y2="405.5" stroke="#3a3a3a" stroke-width="1"/>
<line x1="45.9" y1="386.1" x2="49.1" y2="386.1" stroke="#3a3a3a" stroke-width="1"/>
<line x1="45.9" y1="366.7" x2="49.1" y2="366.7" stroke="#3a3a3a" stroke-width="1"/>
<line x1="45.9" y1="347.3" x2="49.1" y2="347.3" stroke="#3a3a3a" stroke-width="1"/>
<line x1="47.3" y1="395.8" x2="49.1" y2="395.8" stroke="#3a3a3a" stroke-width="1"/>
<line x1="47.3" y1="376.4" x2="49.1" y2="376.4" stroke="#3a3a3a" stroke-width="1"/>
<line x1="47.3" y1="357" x2="49.1" y2="357" stroke="#3a3a3a" stroke-width="1"/>
<line x1="47.3" y1="337.6" x2="49.1" y2="337.6" stroke="#3a3a3a" stroke-width="1"/>
<line x1="76.38" y1="406.5" x2="76.38" y2="409.7" stroke="#3a3a3a" stroke-width="1"/>
<line x1="114.66" y1="406.5" x2="114.66" y2="409.7" stroke="#3a3a3a" stroke-width="1"/>
<line x1="152.94" y1="406.5" x2="152.94" y2="409.7" stroke="#3a3a3a" stroke-width="1"/>
<line x1="191.22" y1="406.5" x2="191.22" y2="409.7" stroke="#3a3a3a" stroke-width="1"/>
<line x1="229.5" y1="406.5" x2="229.5" y2="409.7" stroke="#3a3a3a" stroke-width="1"/>
<line x1="267.78" y1="406.5" x2="267.78" y2="409.7" stroke="#3a3a3a" stroke-width="1"/>
<line x1="57.24" y1="406.5" x2="57.24" y2="408.3" stroke="#3a3a3a" stroke-width="1"/>
<line x1="95.52" y1="406.5" x2="95.52" y2="408.3" stroke="#3a3a3a" stroke-width="1"/>
<line x1="133.8" y1="406.5" x2="133.8" y2="408.3" stroke="#3a3a3a" stroke-width="1"/>
<line x1="172.08" y1="406.5" x2="172.08" y2="408.3" stroke="#3a3a3a" stroke-width="1"/>
<line x1="210.36" y1="406.5" x2="210.36" y2="408.3" stroke="#3a3a3a" stroke-width="1"/>
<line x1="248.64" y1="406.5" x2="248.64" y2="408.3" stroke="#3a3a3a" stroke-width="1"/>
<text x="43.4" y="328.2" font-size="13.4" font-weight="bold" text-anchor="end" fill="#000">10</text>
<text x="43.4" y="289.15" font-size="13.4" font-weight="bold" text-anchor="end" fill="#000">20</text>
<text x="43.4" y="250.1" font-size="13.4" font-weight="bold" text-anchor="end" fill="#000">30</text>
<text x="43.4" y="409.4" font-size="13.4" font-weight="bold" text-anchor="end" fill="#000">0</text>
<text x="43.4" y="390" font-size="13.4" font-weight="bold" text-anchor="end" fill="#000">1</text>
<text x="43.4" y="370.6" font-size="13.4" font-weight="bold" text-anchor="end" fill="#000">2</text>
<text x="43.4" y="351.2" font-size="13.4" font-weight="bold" text-anchor="end" fill="#000">3</text>
<text x="76.38" y="422.7" font-size="13.2" font-weight="bold" text-anchor="middle" fill="#000">0.5</text>
<text x="114.66" y="422.7" font-size="13.2" font-weight="bold" text-anchor="middle" fill="#000">1.0</text>
<text x="152.94" y="422.7" font-size="13.2" font-weight="bold" text-anchor="middle" fill="#000">1.5</text>
<text x="191.22" y="422.7" font-size="13.2" font-weight="bold" text-anchor="middle" fill="#000">2.0</text>
<text x="229.5" y="422.7" font-size="13.2" font-weight="bold" text-anchor="middle" fill="#000">2.5</text>
<text x="267.78" y="422.7" font-size="13.2" font-weight="bold" text-anchor="middle" fill="#000">3.0</text>
<text x="95.6" y="439.8" font-size="13" font-weight="bold" text-anchor="start" fill="#000" textLength="139" lengthAdjust="spacingAndGlyphs">X-ray Emission (keV)</text>
<text x="18" y="389.8" font-size="13.2" font-weight="bold" text-anchor="start" fill="#000" transform="rotate(-90 18 389.8)" textLength="131.8" lengthAdjust="spacingAndGlyphs">Counts 10<tspan font-size="8" dy="-7.5">3</tspan><tspan dy="7.5"> (Arb. U.)</tspan></text>
<text x="249.6" y="266" font-size="18.5" font-weight="bold" text-anchor="start" fill="#000">c</text>
<path d="M55.1,324.4 L55.6,310 L56.2,295 L57.2,284 L58.4,270.3 L59.6,284 L60.5,295 L60.9,310 L61.2,324.4" fill="none" stroke="#e00000" stroke-width="2.4" stroke-linejoin="round" stroke-linecap="round"/>
<path d="M49.7,400.4 C49.85,400.03 50.28,399.35 50.6,398.2 C50.92,397.05 51.3,395.45 51.6,393.5 C51.9,391.55 52.17,388.98 52.4,386.5 C52.63,384.02 52.82,383.02 53,378.6 C53.18,374.18 53.35,365.93 53.5,360 C53.65,354.07 53.8,348.33 53.9,343 C54,337.67 54.07,330.5 54.1,328" fill="none" stroke="#000000" stroke-width="2.4" stroke-linejoin="round" stroke-linecap="round"/>
<path d="M63,328 L63.05,328.84 L63.11,329.87 L63.18,331.09 L63.26,332.49 L63.36,334.09 L63.46,335.87 L63.57,337.84 L63.7,340 L63.84,342.45 L64,345.22 L64.17,348.24 L64.36,351.42 L64.54,354.68 L64.73,357.93 L64.92,361.1 L65.1,364.1 L65.27,367.02 L65.45,369.98 L65.62,372.94 L65.79,375.86 L65.96,378.68 L66.14,381.38 L66.32,383.9 L66.5,386.2 L66.69,388.31 L66.89,390.29 L67.09,392.13 L67.29,393.82 L67.49,395.36 L67.7,396.74 L67.9,397.95 L68.1,399 L68.3,399.85 L68.49,400.51 L68.68,400.98 L68.88,401.31 L69.07,401.51 L69.27,401.6 L69.48,401.63 L69.7,401.6 L69.93,401.54 L70.17,401.44 L70.42,401.27 L70.68,400.99 L70.93,400.59 L71.19,400.02 L71.45,399.27 L71.7,398.3 L71.95,397.1 L72.21,395.68 L72.48,394.07 L72.74,392.3 L72.99,390.4 L73.24,388.4 L73.48,386.32 L73.7,384.2 L73.9,381.97 L74.09,379.59 L74.27,377.1 L74.44,374.52 L74.6,371.89 L74.76,369.26 L74.93,366.65 L75.1,364.1 L75.28,361.51 L75.45,358.8 L75.63,356.05 L75.81,353.32 L75.99,350.69 L76.16,348.23 L76.33,346.01 L76.5,344.1 L76.66,342.44 L76.81,340.93 L76.96,339.59 L77.1,338.45 L77.24,337.55 L77.39,336.9 L77.54,336.54 L77.7,336.5 L77.87,336.81 L78.04,337.44 L78.21,338.38 L78.39,339.57 L78.57,340.98 L78.75,342.56 L78.92,344.28 L79.1,346.1 L79.27,348.11 L79.45,350.39 L79.62,352.87 L79.79,355.5 L79.96,358.21 L80.14,360.94 L80.32,363.62 L80.5,366.2 L80.69,368.77 L80.89,371.42 L81.09,374.1 L81.29,376.76 L81.49,379.36 L81.7,381.83 L81.9,384.13 L82.1,386.2 L82.3,388.06 L82.49,389.77 L82.68,391.34 L82.88,392.77 L83.07,394.07 L83.27,395.25 L83.48,396.33 L83.7,397.3 L83.93,398.17 L84.17,398.91 L84.42,399.55 L84.68,400.06 L84.93,400.47 L85.19,400.75 L85.45,400.93 L85.7,401 L85.95,400.9 L86.2,400.62 L86.45,400.19 L86.7,399.66 L86.95,399.08 L87.2,398.5 L87.45,397.96 L87.7,397.5 L87.95,397.07 L88.21,396.6 L88.47,396.12 L88.73,395.66 L88.98,395.25 L89.23,394.92 L89.47,394.69 L89.7,394.6 L89.92,394.66 L90.12,394.85 L90.32,395.15 L90.51,395.52 L90.7,395.95 L90.89,396.4 L91.09,396.86 L91.3,397.3 L91.52,397.75 L91.73,398.26 L91.94,398.81 L92.16,399.36 L92.39,399.91 L92.64,400.43 L92.91,400.9 L93.2,401.3 L93.46,401.63 L93.67,401.91 L93.86,402.15 L94.08,402.36 L94.38,402.54 L94.81,402.71 L95.4,402.86 L96.2,403.18 L96.96,402.97 L97.65,403.42 L98.36,403.53 L99.18,402.88 L100.2,402.97 L101.5,403.64 L103.18,403.97 L105.31,403.3 L108,403.56 L108.79,403.71 L109.63,403.45 L110.51,403.5 L111.43,403.46 L112.39,403.53 L113.39,403.77 L114.42,403.48 L115.49,403.57 L116.58,403.98 L117.71,403.24 L118.87,403.8 L120.05,403.97 L121.25,403.56 L122.48,403.48 L123.73,404.07 L125,403.51 L126.28,403.47 L127.58,403.73 L128.88,404 L130.21,403.41 L131.53,403.64 L132.87,403.66 L134.21,404.16 L135.56,403.78 L136.9,404.2 L138.25,403.52 L139.59,403.69 L140.92,404.01 L142.26,404.25 L143.58,403.83 L144.89,403.61 L146.19,403.51 L147.48,403.92 L148.75,403.59 L150,404.21 L151.19,404.24 L152.41,403.59 L153.65,403.69 L154.91,404.22 L156.2,404.06 L157.5,404.23 L158.82,403.77 L160.16,403.56 L161.5,403.72 L162.86,404.22 L164.22,403.7 L165.58,403.78 L166.95,403.85 L168.33,403.86 L169.69,403.85 L171.06,404.36 L172.42,403.59 L173.77,403.44 L175.11,404.38 L176.44,404.32 L177.76,404.42 L179.05,403.87 L180.33,404.39 L181.59,404.36 L182.82,403.65 L184.03,404.18 L185.21,404.27 L186.36,404.09 L187.48,403.94 L188.56,403.71 L189.61,403.76 L190.62,403.64 L191.59,403.48 L192.51,404 L193.39,403.69 L194.22,404.21 L195,403.45 L197.75,404.29 L199.86,404.08 L201.44,404.31 L202.6,404.28 L203.45,404.27 L204.09,403.91 L204.64,403.3 L205.21,403.71 L205.9,403.6 L206.68,403.46 L207.27,403.33 L207.72,403.17 L208.06,402.99 L208.34,402.75 L208.6,402.46 L208.87,402.08 L209.2,401.6 L209.57,401.01 L209.93,400.32 L210.28,399.54 L210.62,398.7 L210.95,397.82 L211.27,396.91 L211.59,396 L211.9,395.1 L212.2,394.17 L212.5,393.17 L212.8,392.13 L213.08,391.09 L213.36,390.07 L213.62,389.11 L213.87,388.24 L214.1,387.5 L214.31,386.86 L214.51,386.29 L214.69,385.78 L214.86,385.35 L215.02,384.99 L215.18,384.71 L215.34,384.51 L215.5,384.4 L215.66,384.36 L215.82,384.38 L215.98,384.48 L216.13,384.66 L216.29,384.94 L216.45,385.31 L216.62,385.79 L216.8,386.4 L216.99,387.19 L217.19,388.17 L217.39,389.29 L217.6,390.5 L217.82,391.74 L218.04,392.96 L218.27,394.1 L218.5,395.1 L218.74,396 L218.98,396.87 L219.23,397.7 L219.48,398.49 L219.74,399.23 L220.02,399.91 L220.3,400.54 L220.6,401.1 L220.89,401.6 L221.16,402.02 L221.44,402.39 L221.73,402.71 L222.05,402.98 L222.42,403.21 L222.87,403.42 L223.4,403.85 L224.06,403.43 L224.84,403.69 L225.71,404.15 L226.62,404.07 L227.53,403.99 L228.41,404.5 L229.22,404.11 L229.9,403.74 L230.47,403.5 L230.96,403.9 L231.4,403.29 L231.79,403.01 L232.15,402.69 L232.49,402.34 L232.84,401.98 L233.2,401.6 L233.57,401.18 L233.92,400.7 L234.27,400.18 L234.6,399.64 L234.93,399.12 L235.25,398.62 L235.58,398.17 L235.9,397.8 L236.22,397.49 L236.54,397.22 L236.86,396.98 L237.17,396.77 L237.48,396.61 L237.79,396.5 L238.09,396.42 L238.4,396.4 L238.7,396.42 L239,396.5 L239.29,396.61 L239.59,396.77 L239.88,396.98 L240.18,397.22 L240.49,397.49 L240.8,397.8 L241.12,398.17 L241.45,398.62 L241.79,399.13 L242.12,399.66 L242.47,400.2 L242.81,400.72 L243.16,401.19 L243.5,401.6 L243.8,401.95 L244.05,402.27 L244.28,402.56 L244.53,402.82 L244.81,403.05 L245.18,403.26 L245.67,403.44 L246.3,403.58 L247.08,404 L247.98,403.66 L248.99,403.55 L250.08,403.92 L251.24,404.21 L252.45,403.56 L253.71,404.18 L255,404.32 L256.12,404.21 L257.38,404.23 L258.74,403.4 L260.14,404.01 L261.54,404.23 L262.91,403.4 L264.18,403.61 L265.32,403.59 L266.27,403.84 L267,403.72" fill="none" stroke="#000000" stroke-width="2.4" stroke-linejoin="round" stroke-linecap="round"/>
<path d="M49.7,400.4 C49.85,400.03 50.28,399.35 50.6,398.2 C50.92,397.05 51.3,395.45 51.6,393.5 C51.9,391.55 52.17,388.98 52.4,386.5 C52.63,384.02 52.82,383.02 53,378.6 C53.18,374.18 53.35,365.93 53.5,360 C53.65,354.07 53.8,348.33 53.9,343 C54,337.67 54.07,330.5 54.1,328" fill="none" stroke="#e00000" stroke-width="2.4" stroke-linejoin="round" stroke-linecap="round"/>
<path d="M63,328 L63.05,328.84 L63.11,329.87 L63.18,331.09 L63.26,332.49 L63.36,334.09 L63.46,335.87 L63.57,337.84 L63.7,340 L63.84,342.45 L64,345.22 L64.17,348.24 L64.36,351.42 L64.54,354.68 L64.73,357.93 L64.92,361.1 L65.1,364.1 L65.27,367.02 L65.45,369.98 L65.62,372.94 L65.79,375.86 L65.96,378.68 L66.14,381.38 L66.32,383.9 L66.5,386.2 L66.69,388.31 L66.89,390.29 L67.09,392.13 L67.29,393.82 L67.49,395.36 L67.7,396.74 L67.9,397.95 L68.1,399 L68.3,399.85 L68.49,400.51 L68.68,400.98 L68.88,401.31 L69.07,401.51 L69.27,401.6 L69.48,401.63 L69.7,401.6 L69.93,401.54 L70.17,401.44 L70.42,401.27 L70.68,400.99 L70.93,400.59 L71.19,400.02 L71.45,399.27 L71.7,398.3 L71.95,397.1 L72.21,395.68 L72.48,394.07 L72.74,392.3 L72.99,390.4 L73.24,388.4 L73.48,386.32 L73.7,384.2 L73.9,381.97 L74.09,379.59 L74.27,377.1 L74.44,374.52 L74.6,371.89 L74.76,369.26 L74.93,366.65 L75.1,364.1 L75.28,361.51 L75.45,358.8 L75.63,356.05 L75.81,353.32 L75.99,350.69 L76.16,348.23 L76.33,346.01 L76.5,344.1 L76.66,342.44 L76.81,340.93 L76.96,339.59 L77.1,338.45 L77.24,337.55 L77.39,336.9 L77.54,336.54 L77.7,336.5 L77.87,336.81 L78.04,337.44 L78.21,338.38 L78.39,339.57 L78.57,340.98 L78.75,342.56 L78.92,344.28 L79.1,346.1 L79.27,348.11 L79.45,350.39 L79.62,352.87 L79.79,355.5 L79.96,358.21 L80.14,360.94 L80.32,363.62 L80.5,366.2 L80.69,368.77 L80.89,371.42 L81.09,374.1 L81.29,376.76 L81.49,379.36 L81.7,381.83 L81.9,384.13 L82.1,386.2 L82.3,388.06 L82.49,389.77 L82.68,391.34 L82.88,392.77 L83.07,394.07 L83.27,395.25 L83.48,396.33 L83.7,397.3 L83.93,398.17 L84.17,398.91 L84.42,399.55 L84.68,400.06 L84.93,400.47 L85.19,400.75 L85.45,400.93 L85.7,401 L85.95,400.9 L86.2,400.62 L86.45,400.19 L86.7,399.66 L86.95,399.08 L87.2,398.5 L87.45,397.96 L87.7,397.5 L87.95,397.07 L88.21,396.6 L88.47,396.12 L88.73,395.66 L88.98,395.25 L89.23,394.92 L89.47,394.69 L89.7,394.6 L89.92,394.66 L90.12,394.85 L90.32,395.15 L90.51,395.52 L90.7,395.95 L90.89,396.4 L91.09,396.86 L91.3,397.3 L91.52,397.75 L91.73,398.26 L91.94,398.81 L92.16,399.36 L92.39,399.91 L92.64,400.43 L92.91,400.9 L93.2,401.3 L93.46,401.63 L93.67,401.91 L93.86,402.15 L94.08,402.36 L94.38,402.54 L94.81,402.71 L95.4,402.86 L96.2,402.98 L96.96,403.31 L97.65,402.86 L98.36,402.98 L99.18,403.1 L100.2,403.15 L101.5,403.16 L103.18,403.84 L105.31,403.8 L108,403.31 L108.79,403.61 L109.63,403.5 L110.51,403.51 L111.43,403.55 L112.39,403.76 L113.39,403.73 L114.42,403.59 L115.49,403.48 L116.58,403.59 L117.71,403.45 L118.87,403.77 L120.05,403.89 L121.25,403.66 L122.48,403.46 L123.73,403.54 L125,403.69 L126.28,403.86 L127.58,403.99 L128.88,403.72 L130.21,404.02 L131.53,403.9 L132.87,403.78 L134.21,403.74 L135.56,403.84 L136.9,403.99 L138.25,403.8 L139.59,403.99 L140.92,403.84 L142.26,403.69 L143.58,403.9 L144.89,404.02 L146.19,403.59 L147.48,403.84 L148.75,403.84 L150,404.17 L151.19,404.21 L152.41,403.82 L153.65,404.19 L154.91,404.12 L156.2,403.75 L157.5,403.9 L158.82,403.66 L160.16,404.14 L161.5,404.04 L162.86,404.2 L164.22,404.14 L165.58,404.05 L166.95,404.1 L168.33,403.98 L169.69,403.66 L171.06,404 L172.42,403.59 L173.77,403.69 L175.11,404.13 L176.44,403.62 L177.76,403.65 L179.05,403.66 L180.33,404.2 L181.59,403.71 L182.82,403.6 L184.03,404.17 L185.21,403.66 L186.36,404.17 L187.48,404.05 L188.56,404.16 L189.61,404.24 L190.62,403.97 L191.59,404.12 L192.51,403.59 L193.39,404.09 L194.22,403.91 L195,404.05 L197.75,403.61 L199.86,404.06 L201.44,404.19 L202.6,403.57 L203.45,403.74 L204.09,403.88 L204.64,404.02 L205.21,403.71 L205.9,403.6 L206.68,403.46 L207.27,403.33 L207.72,403.17 L208.06,402.99 L208.34,402.75 L208.6,402.46 L208.87,402.08 L209.2,401.6 L209.57,401.01 L209.93,400.32 L210.28,399.54 L210.62,398.7 L210.95,397.82 L211.27,396.91 L211.59,396 L211.9,395.1 L212.2,394.17 L212.5,393.17 L212.8,392.13 L213.08,391.09 L213.36,390.07 L213.62,389.11 L213.87,388.24 L214.1,387.5 L214.31,386.86 L214.51,386.29 L214.69,385.78 L214.86,385.35 L215.02,384.99 L215.18,384.71 L215.34,384.51 L215.5,384.4 L215.66,384.36 L215.82,384.38 L215.98,384.48 L216.13,384.66 L216.29,384.94 L216.45,385.31 L216.62,385.79 L216.8,386.4 L216.99,387.19 L217.19,388.17 L217.39,389.29 L217.6,390.5 L217.82,391.74 L218.04,392.96 L218.27,394.1 L218.5,395.1 L218.74,396 L218.98,396.87 L219.23,397.7 L219.48,398.49 L219.74,399.23 L220.02,399.91 L220.3,400.54 L220.6,401.1 L220.89,401.6 L221.16,402.02 L221.44,402.39 L221.73,402.71 L222.05,402.98 L222.42,403.21 L222.87,403.42 L223.4,403.42 L224.06,403.54 L224.84,403.72 L225.71,404.07 L226.62,404.23 L227.53,404 L228.41,403.97 L229.22,403.93 L229.9,403.8 L230.47,403.69 L230.96,403.25 L231.4,403.29 L231.79,403.01 L232.15,402.69 L232.49,402.34 L232.84,401.98 L233.2,401.6 L233.57,401.18 L233.92,400.7 L234.27,400.18 L234.6,399.64 L234.93,399.12 L235.25,398.62 L235.58,398.17 L235.9,397.8 L236.22,397.49 L236.54,397.22 L236.86,396.98 L237.17,396.77 L237.48,396.61 L237.79,396.5 L238.09,396.42 L238.4,396.4 L238.7,396.42 L239,396.5 L239.29,396.61 L239.59,396.77 L239.88,396.98 L240.18,397.22 L240.49,397.49 L240.8,397.8 L241.12,398.17 L241.45,398.62 L241.79,399.13 L242.12,399.66 L242.47,400.2 L242.81,400.72 L243.16,401.19 L243.5,401.6 L243.8,401.95 L244.05,402.27 L244.28,402.56 L244.53,402.82 L244.81,403.05 L245.18,403.26 L245.67,403.44 L246.3,403.6 L247.08,404.05 L247.98,403.74 L248.99,404.03 L250.08,403.64 L251.24,404.03 L252.45,404.07 L253.71,404.01 L255,403.91 L256.12,403.89 L257.38,404 L258.74,404.17 L260.14,403.64 L261.54,403.59 L262.91,404.03 L264.18,404.13 L265.32,403.83 L266.27,403.77 L267,403.95" fill="none" stroke="#e00000" stroke-width="2.4" stroke-linejoin="round" stroke-linecap="round"/>
<text x="53.9" y="266.8" font-size="14" font-weight="normal" text-anchor="start" fill="#000">C</text>
<text x="72.8" y="332.6" font-size="14" font-weight="normal" text-anchor="start" fill="#000">O</text>
<text x="90.8" y="387.4" font-size="14" font-weight="normal" text-anchor="start" fill="#000">F</text>
<text x="211.6" y="379.4" font-size="14" font-weight="normal" text-anchor="start" fill="#000">S</text>
<text x="233" y="393.2" font-size="14" font-weight="normal" text-anchor="start" fill="#000">Cl</text>
<line x1="132.1" y1="354.9" x2="152.5" y2="354.9" stroke="#000000" stroke-width="2.2"/>
<text x="153.5" y="357.9" font-size="8.6" font-weight="normal" text-anchor="start" fill="#111">0.65 V</text>
<line x1="132.1" y1="365.5" x2="152.5" y2="365.5" stroke="#e00000" stroke-width="2.2"/>
<text x="153.5" y="368.5" font-size="8.6" font-weight="normal" text-anchor="start" fill="#111">-0.6 V</text>
<line x1="332.6" y1="249" x2="536.2" y2="249" stroke="#d4d4d4" stroke-width="1"/>
<line x1="536.2" y1="249" x2="536.2" y2="407" stroke="#d4d4d4" stroke-width="1"/>
<line x1="332.6" y1="249" x2="332.6" y2="326.2" stroke="#3a3a3a" stroke-width="1"/>
<line x1="332.6" y1="328.9" x2="332.6" y2="407" stroke="#3a3a3a" stroke-width="1"/>
<line x1="332.1" y1="407" x2="536.7" y2="407" stroke="#3a3a3a" stroke-width="1"/>
<line x1="329.1" y1="327.5" x2="335.5" y2="325.3" stroke="#222" stroke-width="1"/>
<line x1="329.1" y1="330.5" x2="335.5" y2="328" stroke="#222" stroke-width="1"/>
<line x1="329.4" y1="325.8" x2="332.6" y2="325.8" stroke="#3a3a3a" stroke-width="1"/>
<line x1="329.4" y1="300.2" x2="332.6" y2="300.2" stroke="#3a3a3a" stroke-width="1"/>
<line x1="329.4" y1="274.6" x2="332.6" y2="274.6" stroke="#3a3a3a" stroke-width="1"/>
<line x1="329.4" y1="249" x2="332.6" y2="249" stroke="#3a3a3a" stroke-width="1"/>
<line x1="330.8" y1="313" x2="332.6" y2="313" stroke="#3a3a3a" stroke-width="1"/>
<line x1="330.8" y1="287.4" x2="332.6" y2="287.4" stroke="#3a3a3a" stroke-width="1"/>
<line x1="330.8" y1="261.8" x2="332.6" y2="261.8" stroke="#3a3a3a" stroke-width="1"/>
<line x1="329.4" y1="407" x2="332.6" y2="407" stroke="#3a3a3a" stroke-width="1"/>
<line x1="329.4" y1="384.74" x2="332.6" y2="384.74" stroke="#3a3a3a" stroke-width="1"/>
<line x1="329.4" y1="362.48" x2="332.6" y2="362.48" stroke="#3a3a3a" stroke-width="1"/>
<line x1="329.4" y1="340.22" x2="332.6" y2="340.22" stroke="#3a3a3a" stroke-width="1"/>
<line x1="330.8" y1="395.87" x2="332.6" y2="395.87" stroke="#3a3a3a" stroke-width="1"/>
<line x1="330.8" y1="373.61" x2="332.6" y2="373.61" stroke="#3a3a3a" stroke-width="1"/>
<line x1="330.8" y1="351.35" x2="332.6" y2="351.35" stroke="#3a3a3a" stroke-width="1"/>
<line x1="357" y1="407" x2="357" y2="410.2" stroke="#3a3a3a" stroke-width="1"/>
<line x1="392.8" y1="407" x2="392.8" y2="410.2" stroke="#3a3a3a" stroke-width="1"/>
<line x1="428.6" y1="407" x2="428.6" y2="410.2" stroke="#3a3a3a" stroke-width="1"/>
<line x1="464.4" y1="407" x2="464.4" y2="410.2" stroke="#3a3a3a" stroke-width="1"/>
<line x1="500.2" y1="407" x2="500.2" y2="410.2" stroke="#3a3a3a" stroke-width="1"/>
<line x1="536" y1="407" x2="536" y2="410.2" stroke="#3a3a3a" stroke-width="1"/>
<line x1="339.1" y1="407" x2="339.1" y2="408.8" stroke="#3a3a3a" stroke-width="1"/>
<line x1="374.9" y1="407" x2="374.9" y2="408.8" stroke="#3a3a3a" stroke-width="1"/>
<line x1="410.7" y1="407" x2="410.7" y2="408.8" stroke="#3a3a3a" stroke-width="1"/>
<line x1="446.5" y1="407" x2="446.5" y2="408.8" stroke="#3a3a3a" stroke-width="1"/>
<line x1="482.3" y1="407" x2="482.3" y2="408.8" stroke="#3a3a3a" stroke-width="1"/>
<line x1="518.1" y1="407" x2="518.1" y2="408.8" stroke="#3a3a3a" stroke-width="1"/>
<text x="327.6" y="329.6" font-size="13.4" font-weight="bold" text-anchor="end" fill="#000">2</text>
<text x="327.6" y="304" font-size="13.4" font-weight="bold" text-anchor="end" fill="#000">4</text>
<text x="327.6" y="278.4" font-size="13.4" font-weight="bold" text-anchor="end" fill="#000">6</text>
<text x="327.6" y="252.8" font-size="13.4" font-weight="bold" text-anchor="end" fill="#000">8</text>
<text x="327.6" y="410.9" font-size="13.2" font-weight="bold" text-anchor="end" fill="#000">0.0</text>
<text x="327.6" y="388.64" font-size="13.2" font-weight="bold" text-anchor="end" fill="#000">0.2</text>
<text x="327.6" y="366.38" font-size="13.2" font-weight="bold" text-anchor="end" fill="#000">0.4</text>
<text x="327.6" y="344.12" font-size="13.2" font-weight="bold" text-anchor="end" fill="#000">0.6</text>
<text x="357" y="422.9" font-size="13.2" font-weight="bold" text-anchor="middle" fill="#000">0.5</text>
<text x="392.8" y="422.9" font-size="13.2" font-weight="bold" text-anchor="middle" fill="#000">1.0</text>
<text x="428.6" y="422.9" font-size="13.2" font-weight="bold" text-anchor="middle" fill="#000">1.5</text>
<text x="464.4" y="422.9" font-size="13.2" font-weight="bold" text-anchor="middle" fill="#000">2.0</text>
<text x="500.2" y="422.9" font-size="13.2" font-weight="bold" text-anchor="middle" fill="#000">2.5</text>
<text x="536" y="422.9" font-size="13.2" font-weight="bold" text-anchor="middle" fill="#000">3.0</text>
<text x="375.6" y="439.8" font-size="12.8" font-weight="bold" text-anchor="start" fill="#000" textLength="130.2" lengthAdjust="spacingAndGlyphs">X-ray Emission (keV)</text>
<text x="302.8" y="397.1" font-size="13" font-weight="bold" text-anchor="start" fill="#000" transform="rotate(-90 302.8 397.1)" textLength="129.8" lengthAdjust="spacingAndGlyphs">Counts 10<tspan font-size="8" dy="-7.5">3</tspan><tspan dy="7.5"> (Arb. U.)</tspan></text>
<text x="516.3" y="267.3" font-size="18.5" font-weight="bold" text-anchor="start" fill="#000">d</text>
<path d="M337.8,326 L338.5,312 L339.4,298 L340.3,285 L341.3,275.9 L342.2,285 L342.8,298 L343.1,312 L343.2,326" fill="none" stroke="#e00000" stroke-width="2.4" stroke-linejoin="round" stroke-linecap="round"/>
<path d="M332.8,399.3 C332.9,398.75 333.2,397.38 333.4,396 C333.6,394.62 333.8,393.17 334,391 C334.2,388.83 334.43,385.5 334.6,383 C334.77,380.5 334.83,379.83 335,376 C335.17,372.17 335.43,365.33 335.6,360 C335.77,354.67 335.88,349.1 336,344 C336.12,338.9 336.25,331.83 336.3,329.4" fill="none" stroke="#000000" stroke-width="2.4" stroke-linejoin="round" stroke-linecap="round"/>
<path d="M344.9,329.4 L344.92,330.23 L344.94,331.24 L344.97,332.41 L345,333.74 L345.04,335.2 L345.08,336.78 L345.12,338.47 L345.18,340.24 L345.23,342.09 L345.3,344 L345.37,346.04 L345.46,348.26 L345.54,350.63 L345.64,353.11 L345.74,355.65 L345.84,358.22 L345.95,360.78 L346.06,363.29 L346.18,365.71 L346.3,368 L346.42,370.23 L346.55,372.49 L346.68,374.75 L346.81,376.98 L346.95,379.16 L347.09,381.25 L347.24,383.22 L347.39,385.06 L347.54,386.73 L347.7,388.2 L347.86,389.47 L348.04,390.56 L348.22,391.5 L348.4,392.3 L348.59,392.98 L348.78,393.56 L348.96,394.07 L349.15,394.51 L349.33,394.92 L349.5,395.3 L349.67,395.63 L349.82,395.87 L349.98,396.02 L350.13,396.11 L350.28,396.14 L350.43,396.12 L350.59,396.06 L350.75,395.98 L350.92,395.89 L351.1,395.8 L351.29,395.73 L351.48,395.68 L351.68,395.64 L351.88,395.57 L352.09,395.46 L352.31,395.29 L352.52,395.03 L352.75,394.66 L352.97,394.16 L353.2,393.5 L353.44,392.67 L353.69,391.69 L353.95,390.58 L354.21,389.35 L354.48,388.04 L354.75,386.67 L355,385.26 L355.25,383.82 L355.48,382.4 L355.7,381 L355.9,379.56 L356.07,378.03 L356.24,376.42 L356.4,374.78 L356.54,373.14 L356.69,371.52 L356.83,369.97 L356.98,368.51 L357.14,367.18 L357.3,366 L357.48,364.93 L357.66,363.91 L357.85,362.96 L358.04,362.08 L358.23,361.29 L358.42,360.62 L358.61,360.06 L358.78,359.65 L358.95,359.39 L359.1,359.3 L359.24,359.38 L359.36,359.62 L359.48,360 L359.58,360.52 L359.68,361.17 L359.78,361.94 L359.88,362.81 L359.98,363.79 L360.09,364.85 L360.2,366 L360.32,367.31 L360.44,368.85 L360.56,370.55 L360.68,372.38 L360.81,374.27 L360.93,376.19 L361.07,378.07 L361.2,379.86 L361.35,381.53 L361.5,383 L361.66,384.34 L361.83,385.63 L362,386.86 L362.18,388.02 L362.37,389.12 L362.56,390.14 L362.74,391.07 L362.93,391.91 L363.12,392.66 L363.3,393.3 L363.48,393.84 L363.65,394.28 L363.83,394.63 L364,394.88 L364.18,395.06 L364.35,395.15 L364.53,395.16 L364.71,395.11 L364.9,394.99 L365.1,394.8 L365.3,394.53 L365.5,394.15 L365.7,393.68 L365.9,393.14 L366.11,392.53 L366.33,391.87 L366.55,391.18 L366.79,390.46 L367.04,389.73 L367.3,389 L367.59,388.18 L367.9,387.21 L368.23,386.13 L368.58,385.01 L368.92,383.89 L369.27,382.84 L369.61,381.91 L369.93,381.16 L370.23,380.64 L370.5,380.4 L370.74,380.47 L370.95,380.78 L371.14,381.32 L371.31,382.02 L371.48,382.85 L371.63,383.77 L371.79,384.74 L371.95,385.71 L372.12,386.64 L372.3,387.5 L372.49,388.35 L372.67,389.27 L372.86,390.24 L373.04,391.24 L373.23,392.24 L373.43,393.22 L373.63,394.16 L373.84,395.03 L374.06,395.82 L374.3,396.5 L374.54,397.07 L374.79,397.57 L375.04,398 L375.29,398.37 L375.56,398.69 L375.85,398.96 L376.15,399.2 L376.47,399.42 L376.82,399.61 L377.2,399.23 L377.56,399.54 L377.86,399.52 L378.14,400.28 L378.43,399.83 L378.77,399.69 L379.18,400.51 L379.69,400.97 L380.35,399.79 L381.17,400.53 L382.2,400.04 L383.05,400.87 L383.96,400.43 L384.95,399.9 L386,399.85 L387.11,399.55 L388.29,400.42 L389.54,400.29 L390.85,399.96 L392.22,400.34 L393.65,400.32 L395.15,401.17 L396.7,400.08 L398.32,401.65 L400,400.76 L400.97,401 L401.96,400.78 L402.97,401.46 L404,401.46 L405.06,401 L406.14,400.88 L407.23,401.33 L408.35,401.6 L409.49,400.79 L410.64,401.41 L411.82,401.83 L413.01,400.96 L414.22,400.55 L415.45,400.58 L416.69,401.46 L417.96,401.4 L419.24,401.93 L420.53,401.75 L421.84,400.66 L423.16,400.58 L424.5,400.72 L425.86,400.6 L427.23,401.55 L428.61,401.84 L430,401.92 L431.08,400.77 L432.21,401.87 L433.38,400.89 L434.59,401.09 L435.83,401.65 L437.1,400.5 L438.39,400.52 L439.71,401.87 L441.05,400.9 L442.41,401.02 L443.78,401.43 L445.16,401.61 L446.54,400.42 L447.92,401.01 L449.31,401.2 L450.69,401.3 L452.06,400.81 L453.42,401.49 L454.76,402.16 L456.09,401.14 L457.39,401.42 L458.67,400.66 L459.91,400.94 L461.13,401.64 L462.31,400.65 L463.44,402.04 L464.54,402.08 L465.59,400.61 L466.58,402.13 L467.53,401.1 L468.41,401.81 L469.24,401.77 L470,400.93 L472.12,401.58 L473.73,401.51 L474.91,401.75 L475.74,400.74 L476.31,401.56 L476.69,401.87 L476.97,401.26 L477.23,400.89 L477.54,399.99 L478,400.49 L478.51,400.31 L478.95,400.14 L479.32,399.97 L479.65,399.77 L479.93,399.54 L480.17,399.26 L480.41,398.92 L480.63,398.48 L480.86,397.95 L481.1,397.3 L481.34,396.56 L481.57,395.76 L481.78,394.9 L481.98,393.96 L482.17,392.93 L482.35,391.81 L482.53,390.59 L482.72,389.25 L482.9,387.79 L483.1,386.2 L483.3,384.43 L483.49,382.48 L483.69,380.37 L483.88,378.13 L484.07,375.81 L484.27,373.44 L484.47,371.05 L484.67,368.67 L484.88,366.34 L485.1,364.1 L485.32,361.72 L485.55,359.04 L485.78,356.19 L486.02,353.31 L486.26,350.51 L486.51,347.94 L486.75,345.71 L487,343.96 L487.25,342.81 L487.5,342.4 L487.75,342.81 L488.02,343.96 L488.28,345.71 L488.55,347.94 L488.82,350.51 L489.09,353.31 L489.36,356.19 L489.62,359.04 L489.86,361.72 L490.1,364.1 L490.32,366.34 L490.54,368.67 L490.74,371.05 L490.94,373.44 L491.14,375.81 L491.33,378.13 L491.52,380.37 L491.71,382.48 L491.9,384.43 L492.1,386.2 L492.3,387.79 L492.49,389.25 L492.67,390.58 L492.86,391.8 L493.04,392.91 L493.24,393.94 L493.43,394.88 L493.64,395.74 L493.86,396.55 L494.1,397.3 L494.31,397.97 L494.46,398.54 L494.59,399.01 L494.71,399.4 L494.86,399.72 L495.07,399.99 L495.36,400.22 L495.76,400.42 L496.3,400.61 L497,400.53 L497.83,401.36 L498.75,401.42 L499.76,401.3 L500.87,400.66 L502.09,401.52 L503.42,401.5 L504.86,400.67 L506.44,401.94 L508.15,401.49 L510,400.52 L510.97,401.97 L512.05,400.53 L513.21,400.86 L514.45,401.54 L515.76,401.29 L517.12,401.18 L518.52,401.32 L519.95,400.94 L521.39,400.64 L522.84,400.36 L524.28,400.13 L525.7,401.26 L527.09,401.29 L528.43,400.87 L529.71,401.19 L530.92,400.47 L532.05,400.27 L533.09,400.45 L534.01,401.31 L534.82,399.79 L535.5,400.61" fill="none" stroke="#000000" stroke-width="2.4" stroke-linejoin="round" stroke-linecap="round"/>
<path d="M332.8,399.3 C332.9,398.75 333.2,397.38 333.4,396 C333.6,394.62 333.8,393.17 334,391 C334.2,388.83 334.43,385.5 334.6,383 C334.77,380.5 334.83,379.83 335,376 C335.17,372.17 335.43,365.33 335.6,360 C335.77,354.67 335.88,349.1 336,344 C336.12,338.9 336.25,331.83 336.3,329.4" fill="none" stroke="#e00000" stroke-width="2.4" stroke-linejoin="round" stroke-linecap="round"/>
<path d="M344.9,329.4 L344.92,330.23 L344.94,331.24 L344.97,332.41 L345,333.74 L345.04,335.2 L345.08,336.78 L345.12,338.47 L345.18,340.24 L345.23,342.09 L345.3,344 L345.37,346.04 L345.46,348.26 L345.54,350.63 L345.64,353.11 L345.74,355.65 L345.84,358.22 L345.95,360.78 L346.06,363.29 L346.18,365.71 L346.3,368 L346.42,370.22 L346.54,372.44 L346.67,374.66 L346.8,376.84 L346.94,378.97 L347.08,381.03 L347.22,383 L347.38,384.87 L347.53,386.61 L347.7,388.2 L347.88,389.66 L348.06,391 L348.26,392.23 L348.46,393.36 L348.66,394.39 L348.87,395.33 L349.08,396.18 L349.29,396.96 L349.5,397.66 L349.7,398.3 L349.9,398.85 L350.1,399.3 L350.3,399.65 L350.5,399.92 L350.7,400.12 L350.9,400.25 L351.1,400.32 L351.3,400.35 L351.5,400.34 L351.7,400.3 L351.9,400.24 L352.1,400.15 L352.3,400.02 L352.5,399.85 L352.7,399.62 L352.9,399.32 L353.1,398.95 L353.3,398.5 L353.5,397.95 L353.7,397.3 L353.9,396.51 L354.11,395.58 L354.32,394.53 L354.53,393.39 L354.74,392.19 L354.94,390.95 L355.14,389.7 L355.34,388.48 L355.52,387.3 L355.7,386.2 L355.86,385.15 L356.02,384.13 L356.16,383.11 L356.3,382.11 L356.44,381.12 L356.57,380.13 L356.7,379.15 L356.83,378.17 L356.96,377.19 L357.1,376.2 L357.24,375.15 L357.38,374.01 L357.53,372.82 L357.67,371.61 L357.81,370.44 L357.95,369.33 L358.09,368.33 L358.23,367.49 L358.37,366.83 L358.5,366.4 L358.63,366.17 L358.75,366.09 L358.87,366.16 L358.98,366.36 L359.1,366.69 L359.22,367.15 L359.33,367.73 L359.45,368.44 L359.57,369.26 L359.7,370.2 L359.83,371.34 L359.96,372.73 L360.09,374.32 L360.22,376.05 L360.35,377.87 L360.49,379.71 L360.63,381.52 L360.78,383.25 L360.93,384.82 L361.1,386.2 L361.28,387.43 L361.46,388.59 L361.66,389.69 L361.86,390.73 L362.06,391.69 L362.27,392.57 L362.48,393.38 L362.69,394.11 L362.9,394.75 L363.1,395.3 L363.3,395.75 L363.5,396.1 L363.7,396.36 L363.9,396.53 L364.1,396.62 L364.3,396.66 L364.5,396.63 L364.7,396.56 L364.9,396.44 L365.1,396.3 L365.3,396.11 L365.48,395.87 L365.67,395.56 L365.85,395.2 L366.04,394.8 L366.23,394.35 L366.43,393.86 L366.64,393.34 L366.86,392.78 L367.1,392.2 L367.36,391.51 L367.65,390.68 L367.96,389.74 L368.28,388.74 L368.6,387.74 L368.92,386.79 L369.24,385.93 L369.55,385.21 L369.84,384.69 L370.1,384.4 L370.34,384.35 L370.56,384.5 L370.77,384.81 L370.97,385.25 L371.16,385.81 L371.35,386.44 L371.53,387.12 L371.72,387.83 L371.9,388.53 L372.1,389.2 L372.3,389.9 L372.48,390.69 L372.67,391.55 L372.85,392.45 L373.03,393.36 L373.22,394.27 L373.42,395.14 L373.63,395.95 L373.86,396.68 L374.1,397.3 L374.36,397.82 L374.62,398.27 L374.89,398.66 L375.17,399 L375.46,399.29 L375.77,399.55 L376.1,399.77 L376.44,399.96 L376.81,400.14 L377.2,399.9 L377.57,400.86 L377.87,400.28 L378.16,400.29 L378.45,400.41 L378.78,400.62 L379.19,400.97 L379.7,400.27 L380.35,401.04 L381.17,399.86 L382.2,400.13 L383.05,399.89 L383.96,399.94 L384.95,401.04 L386,400.99 L387.11,400.16 L388.29,400.21 L389.54,400.61 L390.85,401.17 L392.22,401.33 L393.65,401.26 L395.15,401.05 L396.7,400.37 L398.32,400.81 L400,400.51 L400.97,401.06 L401.96,401.14 L402.97,400.57 L404,400.66 L405.06,401.53 L406.14,400.34 L407.23,401.59 L408.35,401.75 L409.49,401.85 L410.64,400.96 L411.82,401.25 L413.01,401.31 L414.22,401.4 L415.45,401.96 L416.69,401.51 L417.96,400.9 L419.24,401.81 L420.53,401.22 L421.84,401.42 L423.16,401.63 L424.5,400.47 L425.86,401.71 L427.23,401.55 L428.61,401.28 L430,401.34 L431.08,401.24 L432.21,400.82 L433.38,401.36 L434.59,400.58 L435.83,401.32 L437.1,401.56 L438.39,401.24 L439.71,401.44 L441.05,402.08 L442.41,401.97 L443.78,400.77 L445.16,401.82 L446.54,401.55 L447.92,400.64 L449.31,401.14 L450.69,400.94 L452.06,400.69 L453.42,401.43 L454.76,402.05 L456.09,401.08 L457.39,401.96 L458.67,401.67 L459.91,400.78 L461.13,401.93 L462.31,401.52 L463.44,402.03 L464.54,401.69 L465.59,401.72 L466.58,401.08 L467.53,401.82 L468.41,402.01 L469.24,401.89 L470,401.2 L472.12,401.68 L473.73,401.21 L474.91,400.57 L475.74,400.42 L476.31,400.42 L476.69,400.55 L476.97,400.41 L477.23,400.85 L477.54,401.06 L478,400.66 L478.51,400.47 L478.95,400.37 L479.32,400.27 L479.65,400.17 L479.93,400.04 L480.17,399.86 L480.41,399.61 L480.63,399.28 L480.86,398.85 L481.1,398.3 L481.34,397.64 L481.57,396.91 L481.78,396.09 L481.98,395.2 L482.17,394.23 L482.35,393.18 L482.53,392.06 L482.72,390.85 L482.9,389.57 L483.1,388.2 L483.3,386.7 L483.49,385.04 L483.69,383.25 L483.88,381.37 L484.07,379.44 L484.27,377.48 L484.47,375.55 L484.67,373.66 L484.88,371.87 L485.1,370.2 L485.32,368.52 L485.55,366.71 L485.78,364.85 L486.02,363.01 L486.26,361.26 L486.51,359.66 L486.75,358.3 L487,357.24 L487.25,356.55 L487.5,356.3 L487.75,356.55 L488.02,357.24 L488.28,358.3 L488.55,359.66 L488.82,361.26 L489.09,363.01 L489.36,364.85 L489.62,366.71 L489.86,368.52 L490.1,370.2 L490.32,371.87 L490.54,373.66 L490.74,375.55 L490.94,377.48 L491.14,379.44 L491.33,381.37 L491.52,383.25 L491.71,385.04 L491.9,386.7 L492.1,388.2 L492.3,389.56 L492.49,390.85 L492.67,392.05 L492.86,393.17 L493.04,394.22 L493.24,395.19 L493.43,396.08 L493.64,396.89 L493.86,397.63 L494.1,398.3 L494.31,398.87 L494.46,399.32 L494.59,399.67 L494.71,399.95 L494.86,400.16 L495.07,400.32 L495.36,400.44 L495.76,400.56 L496.3,400.67 L497,400.68 L497.83,401.17 L498.75,400.72 L499.76,401.05 L500.87,401.57 L502.09,401.04 L503.42,400.7 L504.86,401.86 L506.44,401.57 L508.15,401 L510,400.99 L510.97,401.24 L512.05,401.33 L513.21,400.72 L514.45,400.34 L515.76,400.65 L517.12,401.54 L518.52,400.48 L519.95,400.95 L521.39,400.49 L522.84,400.48 L524.28,400.38 L525.7,400.71 L527.09,400.3 L528.43,400.04 L529.71,400.13 L530.92,400.19 L532.05,400.68 L533.09,399.96 L534.01,399.87 L534.82,400.53 L535.5,400.45" fill="none" stroke="#e00000" stroke-width="2.4" stroke-linejoin="round" stroke-linecap="round"/>
<text x="336.2" y="271.3" font-size="14" font-weight="normal" text-anchor="start" fill="#000">C</text>
<text x="354.8" y="354.1" font-size="14" font-weight="normal" text-anchor="start" fill="#000">O</text>
<text x="368.8" y="375.2" font-size="14" font-weight="normal" text-anchor="start" fill="#000">F</text>
<text x="483.8" y="338" font-size="14" font-weight="normal" text-anchor="start" fill="#000">S</text>
<line x1="405.1" y1="370.1" x2="425.5" y2="370.1" stroke="#000000" stroke-width="2.2"/>
<text x="429.8" y="373.1" font-size="8.6" font-weight="normal" text-anchor="start" fill="#111">0.65 V</text>
<line x1="405.1" y1="381.2" x2="425.5" y2="381.2" stroke="#e00000" stroke-width="2.2"/>
<text x="425.8" y="384.2" font-size="8.6" font-weight="normal" text-anchor="start" fill="#111">-0.6 V</text>
</svg>
</body></html>
